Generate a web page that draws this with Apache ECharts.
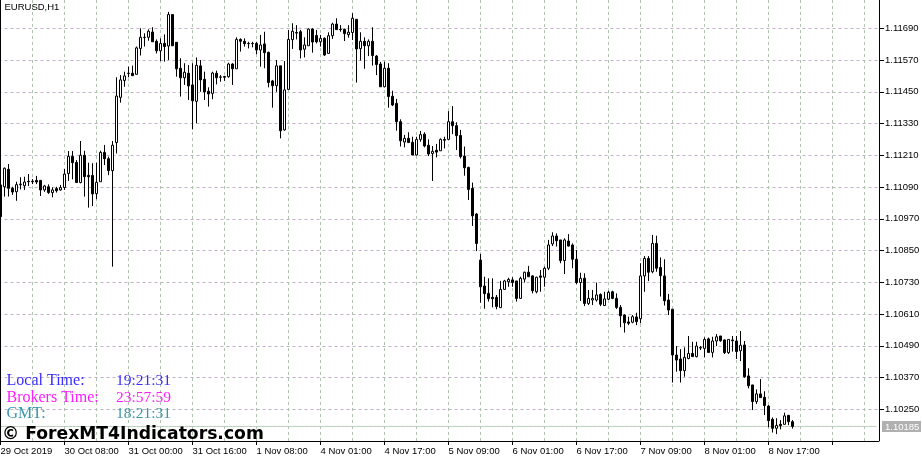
<!DOCTYPE html>
<html>
<head>
<meta charset="utf-8">
<script src="https://cdn.jsdelivr.net/npm/echarts@6/dist/echarts.min.js"></script>
<style>html,body{margin:0;padding:0;background:#fff}#c{width:922px;height:458px}</style>
</head>
<body>
<div id="c"></div>
<script>
const opens = [
1.11098,1.11091,1.11157,1.11085,1.11072,1.11099,1.11095,1.11112,1.11112,1.11115,
1.11115,1.11079,1.11091,1.11069,1.11084,1.11079,1.11088,1.11141,1.11206,1.11183,
1.11107,1.11210,1.11134,1.11134,1.11065,1.11110,1.11221,1.11197,1.11152,1.11258,
1.11429,1.11493,1.11520,1.11520,1.11516,1.11614,1.11656,1.11656,1.11676,1.11641,
1.11605,1.11633,1.11623,1.11742,1.11637,1.11539,1.11503,1.11520,1.11476,1.11414,
1.11548,1.11497,1.11452,1.11444,1.11520,1.11506,1.11508,1.11507,1.11555,1.11537,
1.11648,1.11641,1.11633,1.11633,1.11633,1.11608,1.11631,1.11599,1.11491,1.11473,
1.11548,1.11306,1.11459,1.11647,1.11674,1.11677,1.11611,1.11624,1.11687,1.11663,
1.11639,1.11652,1.11595,1.11662,1.11706,1.11686,1.11686,1.11666,1.11674,1.11724,
1.11613,1.11641,1.11624,1.11641,1.11585,1.11555,1.11469,1.11539,1.11433,1.11406,
1.11337,1.11260,1.11274,1.11259,1.11211,1.11270,1.11290,1.11248,1.11217,1.11229,
1.11227,1.11270,1.11270,1.11337,1.11322,1.11285,1.11207,1.11164,1.11085,1.10988,
1.10814,1.10716,1.10688,1.10673,1.10673,1.10634,1.10703,1.10732,1.10739,1.10735,
1.10669,1.10742,1.10768,1.10754,1.10694,1.10754,1.10749,1.10783,1.10875,1.10905,
1.10890,1.10812,1.10886,1.10871,1.10817,1.10729,1.10745,1.10650,1.10663,1.10663,
1.10684,1.10642,1.10666,1.10694,1.10669,1.10635,1.10606,1.10580,1.10579,1.10599,
1.10592,1.10754,1.10820,1.10770,1.10877,1.10786,1.10754,1.10663,1.10628,1.10455,
1.10440,1.10396,1.10442,1.10461,1.10449,1.10483,1.10480,1.10516,1.10465,1.10508,
1.10527,1.10512,1.10464,1.10512,1.10508,1.10471,1.10493,1.10376,1.10342,1.10279,
1.10308,1.10295,1.10262,1.10212,1.10178,1.10193,1.10193,1.10227,1.10203];
const closes = [
1.10978,1.11161,1.11085,1.11071,1.11099,1.11101,1.11109,1.11110,1.11110,1.11109,
1.11079,1.11094,1.11069,1.11079,1.11076,1.11088,1.11139,1.11206,1.11182,1.11107,
1.11210,1.11129,1.11129,1.11064,1.11108,1.11221,1.11197,1.11152,1.11248,1.11434,
1.11495,1.11510,1.11519,1.11511,1.11616,1.11656,1.11655,1.11679,1.11639,1.11605,
1.11633,1.11621,1.11742,1.11624,1.11537,1.11503,1.11524,1.11472,1.11416,1.11550,
1.11495,1.11450,1.11442,1.11521,1.11503,1.11505,1.11505,1.11555,1.11537,1.11648,
1.11641,1.11632,1.11632,1.11632,1.11608,1.11627,1.11598,1.11485,1.11473,1.11548,
1.11303,1.11457,1.11648,1.11679,1.11672,1.11608,1.11627,1.11687,1.11638,1.11639,
1.11652,1.11589,1.11662,1.11706,1.11685,1.11685,1.11670,1.11675,1.11728,1.11612,
1.11641,1.11624,1.11641,1.11587,1.11553,1.11469,1.11539,1.11432,1.11400,1.11337,
1.11265,1.11274,1.11258,1.11211,1.11270,1.11288,1.11245,1.11215,1.11225,1.11222,
1.11270,1.11267,1.11337,1.11322,1.11284,1.11205,1.11163,1.11081,1.10981,1.10877,
1.10713,1.10687,1.10668,1.10668,1.10638,1.10703,1.10735,1.10741,1.10729,1.10669,
1.10745,1.10768,1.10751,1.10698,1.10749,1.10749,1.10783,1.10871,1.10905,1.10887,
1.10812,1.10890,1.10867,1.10817,1.10729,1.10745,1.10650,1.10669,1.10669,1.10682,
1.10647,1.10667,1.10692,1.10669,1.10635,1.10603,1.10577,1.10575,1.10600,1.10581,
1.10754,1.10820,1.10768,1.10877,1.10783,1.10755,1.10660,1.10625,1.10455,1.10436,
1.10396,1.10446,1.10461,1.10449,1.10489,1.10482,1.10514,1.10465,1.10508,1.10524,
1.10509,1.10464,1.10514,1.10509,1.10468,1.10492,1.10373,1.10339,1.10279,1.10308,
1.10294,1.10264,1.10207,1.10178,1.10189,1.10188,1.10225,1.10203,1.10185];
const highs = [
1.11117,1.11164,1.11177,1.11091,1.11110,1.11127,1.11129,1.11139,1.11120,1.11132,
1.11117,1.11098,1.11100,1.11089,1.11091,1.11098,1.11158,1.11226,1.11226,1.11192,
1.11264,1.11227,1.11182,1.11180,1.11182,1.11227,1.11249,1.11205,1.11264,1.11505,
1.11513,1.11526,1.11545,1.11549,1.11621,1.11690,1.11671,1.11686,1.11694,1.11648,
1.11652,1.11667,1.11752,1.11744,1.11637,1.11577,1.11558,1.11551,1.11558,1.11580,
1.11570,1.11526,1.11467,1.11526,1.11530,1.11513,1.11510,1.11560,1.11558,1.11656,
1.11652,1.11652,1.11639,1.11639,1.11639,1.11665,1.11677,1.11602,1.11495,1.11570,
1.11548,1.11566,1.11684,1.11709,1.11702,1.11684,1.11656,1.11690,1.11690,1.11684,
1.11665,1.11656,1.11675,1.11711,1.11728,1.11702,1.11689,1.11702,1.11747,1.11725,
1.11675,1.11656,1.11648,1.11694,1.11589,1.11563,1.11564,1.11558,1.11454,1.11423,
1.11346,1.11287,1.11297,1.11280,1.11280,1.11302,1.11297,1.11270,1.11245,1.11253,
1.11274,1.11280,1.11377,1.11396,1.11335,1.11306,1.11243,1.11167,1.11107,1.10991,
1.10837,1.10751,1.10745,1.10745,1.10682,1.10735,1.10739,1.10747,1.10749,1.10735,
1.10751,1.10770,1.10792,1.10757,1.10751,1.10776,1.10789,1.10890,1.10919,1.10915,
1.10890,1.10896,1.10912,1.10877,1.10852,1.10766,1.10764,1.10701,1.10701,1.10729,
1.10688,1.10694,1.10698,1.10698,1.10688,1.10644,1.10609,1.10600,1.10606,1.10615,
1.10802,1.10829,1.10829,1.10909,1.10906,1.10824,1.10817,1.10686,1.10628,1.10489,
1.10477,1.10484,1.10527,1.10505,1.10505,1.10489,1.10522,1.10521,1.10524,1.10534,
1.10527,1.10514,1.10514,1.10527,1.10527,1.10546,1.10508,1.10405,1.10342,1.10325,
1.10364,1.10318,1.10266,1.10219,1.10216,1.10209,1.10237,1.10228,1.10209];
const lows = [
1.10940,1.11054,1.11054,1.11060,1.11038,1.11081,1.11079,1.11094,1.11101,1.11101,
1.11056,1.11072,1.11064,1.11051,1.11069,1.11076,1.11079,1.11113,1.11119,1.11107,
1.11104,1.11054,1.11012,1.11018,1.11044,1.11110,1.11173,1.11135,1.10789,1.11217,
1.11409,1.11469,1.11505,1.11511,1.11516,1.11587,1.11621,1.11643,1.11639,1.11595,
1.11566,1.11564,1.11570,1.11623,1.11507,1.11432,1.11476,1.11419,1.11308,1.11331,
1.11450,1.11419,1.11394,1.11422,1.11478,1.11488,1.11491,1.11503,1.11476,1.11537,
1.11602,1.11621,1.11614,1.11618,1.11592,1.11545,1.11539,1.11467,1.11390,1.11450,
1.11274,1.11303,1.11459,1.11612,1.11648,1.11576,1.11580,1.11624,1.11598,1.11633,
1.11621,1.11585,1.11595,1.11650,1.11684,1.11677,1.11642,1.11655,1.11646,1.11485,
1.11568,1.11537,1.11585,1.11549,1.11513,1.11469,1.11467,1.11390,1.11396,1.11303,
1.11243,1.11240,1.11258,1.11211,1.11209,1.11261,1.11240,1.11207,1.11113,1.11202,
1.11227,1.11236,1.11268,1.11290,1.11230,1.11198,1.11133,1.11041,1.10943,1.10848,
1.10653,1.10630,1.10657,1.10635,1.10628,1.10634,1.10701,1.10713,1.10713,1.10657,
1.10669,1.10729,1.10751,1.10688,1.10688,1.10694,1.10713,1.10776,1.10867,1.10865,
1.10802,1.10761,1.10865,1.10783,1.10723,1.10659,1.10640,1.10644,1.10644,1.10657,
1.10640,1.10640,1.10663,1.10666,1.10629,1.10560,1.10540,1.10568,1.10575,1.10568,
1.10575,1.10694,1.10735,1.10764,1.10770,1.10676,1.10642,1.10606,1.10351,1.10392,
1.10351,1.10373,1.10439,1.10449,1.10446,1.10474,1.10446,1.10464,1.10446,1.10489,
1.10505,1.10459,1.10459,1.10468,1.10440,1.10432,1.10369,1.10329,1.10247,1.10270,
1.10294,1.10228,1.10182,1.10162,1.10156,1.10174,1.10193,1.10190,1.10177];
const xTickLabels = ['29 Oct 2019','30 Oct 08:00','31 Oct 00:00','31 Oct 16:00','1 Nov 08:00','4 Nov 01:00','4 Nov 17:00','5 Nov 09:00','6 Nov 01:00','6 Nov 17:00','7 Nov 09:00','8 Nov 01:00','8 Nov 17:00'];
const yTickValues = [1.10250,1.10370,1.10490,1.10610,1.10730,1.10850,1.10970,1.11090,1.11210,1.11330,1.11450,1.11570,1.11690];
const currentPrice = 1.10185;
const clockRows = [['Local Time:','19:21:31','#3a2cff'],['Brokers Time:','23:57:59','#ff1cff'],['GMT:','18:21:31','#3a96a8']];

const BARS_ON_SCREEN = 220;
const categories = [];
for (let i = 0; i < BARS_ON_SCREEN; i++) categories.push(i % 16 === 0 ? (xTickLabels[i / 16] || '') : '');
const candles = opens.map((o, i) => [o, closes[i], lows[i], highs[i]]);
const priceLine = categories.map(() => currentPrice);

const axisFont = {fontFamily: '"Liberation Sans"', fontSize: 9.5, color: '#000'};
const graphics = [
  {type: 'rect', shape: {x: 0, y: 0, width: 1, height: 441}, style: {fill: '#000'}, z: 20},
  {type: 'text', x: 4.5, y: 2, style: {text: 'EURUSD,H1', font: '9.5px "Liberation Sans"', fill: '#000'}, z: 20},
  {type: 'text', x: 2, y: 426.5, style: {text: '© ForexMT4Indicators.com', font: 'bold 17.2px "DejaVu Sans"', fill: '#000'}, z: 20},
  {type: 'rect', shape: {x: 882, y: 421, width: 39, height: 11}, style: {fill: '#b0b0b0'}, z: 20},
  {type: 'text', x: 885, y: 422, style: {text: currentPrice.toFixed(5), font: '9.5px "Liberation Sans"', fill: '#fff'}, z: 21}
];
clockRows.forEach((r, k) => {
  const y = 373 + k * 16.5;
  graphics.push({type: 'text', x: 6.5, y, style: {text: r[0], font: '16px "Liberation Serif"', fill: r[2]}, z: 20});
  graphics.push({type: 'text', x: 116, y, style: {text: r[1], font: '15.5px "Liberation Serif"', fill: r[2]}, z: 20});
});

const chart = echarts.init(document.getElementById('c'), null, {renderer: 'canvas'});
chart.setOption({
  animation: false,
  backgroundColor: '#fff',
  grid: {left: -1.5, top: 0, width: 880, height: 441, containLabel: false, outerBoundsMode: 'none'},
  graphic: graphics,
  xAxis: {
    type: 'category',
    data: categories,
    boundaryGap: true,
    axisLine: {show: true, lineStyle: {color: '#000', width: 1}},
    axisTick: {show: true, alignWithLabel: true, length: 4, interval: (i) => i % 16 === 0, lineStyle: {color: '#000'}},
    axisLabel: Object.assign({interval: (i) => i % 16 === 0, align: 'left', margin: 5, hideOverlap: false}, axisFont),
    splitLine: {show: true, alignWithLabel: true, interval: (i) => i % 8 === 0, lineStyle: {color: '#aec4ae', type: [3, 3], width: 1}}
  },
  yAxis: {
    type: 'value',
    position: 'right',
    offset: 0.5,
    min: 1.1013,
    max: 1.11797,
    scale: true,
    axisLine: {show: true, onZero: false, lineStyle: {color: '#000', width: 1}},
    axisTick: {show: true, length: 5, customValues: yTickValues, lineStyle: {color: '#000'}},
    axisLabel: Object.assign({margin: 6, customValues: yTickValues, formatter: (v) => v.toFixed(5)}, axisFont),
    splitLine: {show: true, lineStyle: {color: '#c0b0c6', type: [3, 3], width: 1}}
  },
  series: [{
    type: 'line',
    data: priceLine,
    silent: true,
    symbol: 'none',
    showSymbol: false,
    clip: false,
    z: 1,
    lineStyle: {color: '#bccdbc', type: 'solid', width: 1}
  }, {
    type: 'candlestick',
    data: candles,
    barWidth: 2,
    clip: false,
    z: 3,
    itemStyle: {color: '#fff', color0: '#000', borderColor: '#000', borderColor0: '#000', borderColorDoji: '#000', borderWidth: 1}
  }]
});
</script>
</body>
</html>
